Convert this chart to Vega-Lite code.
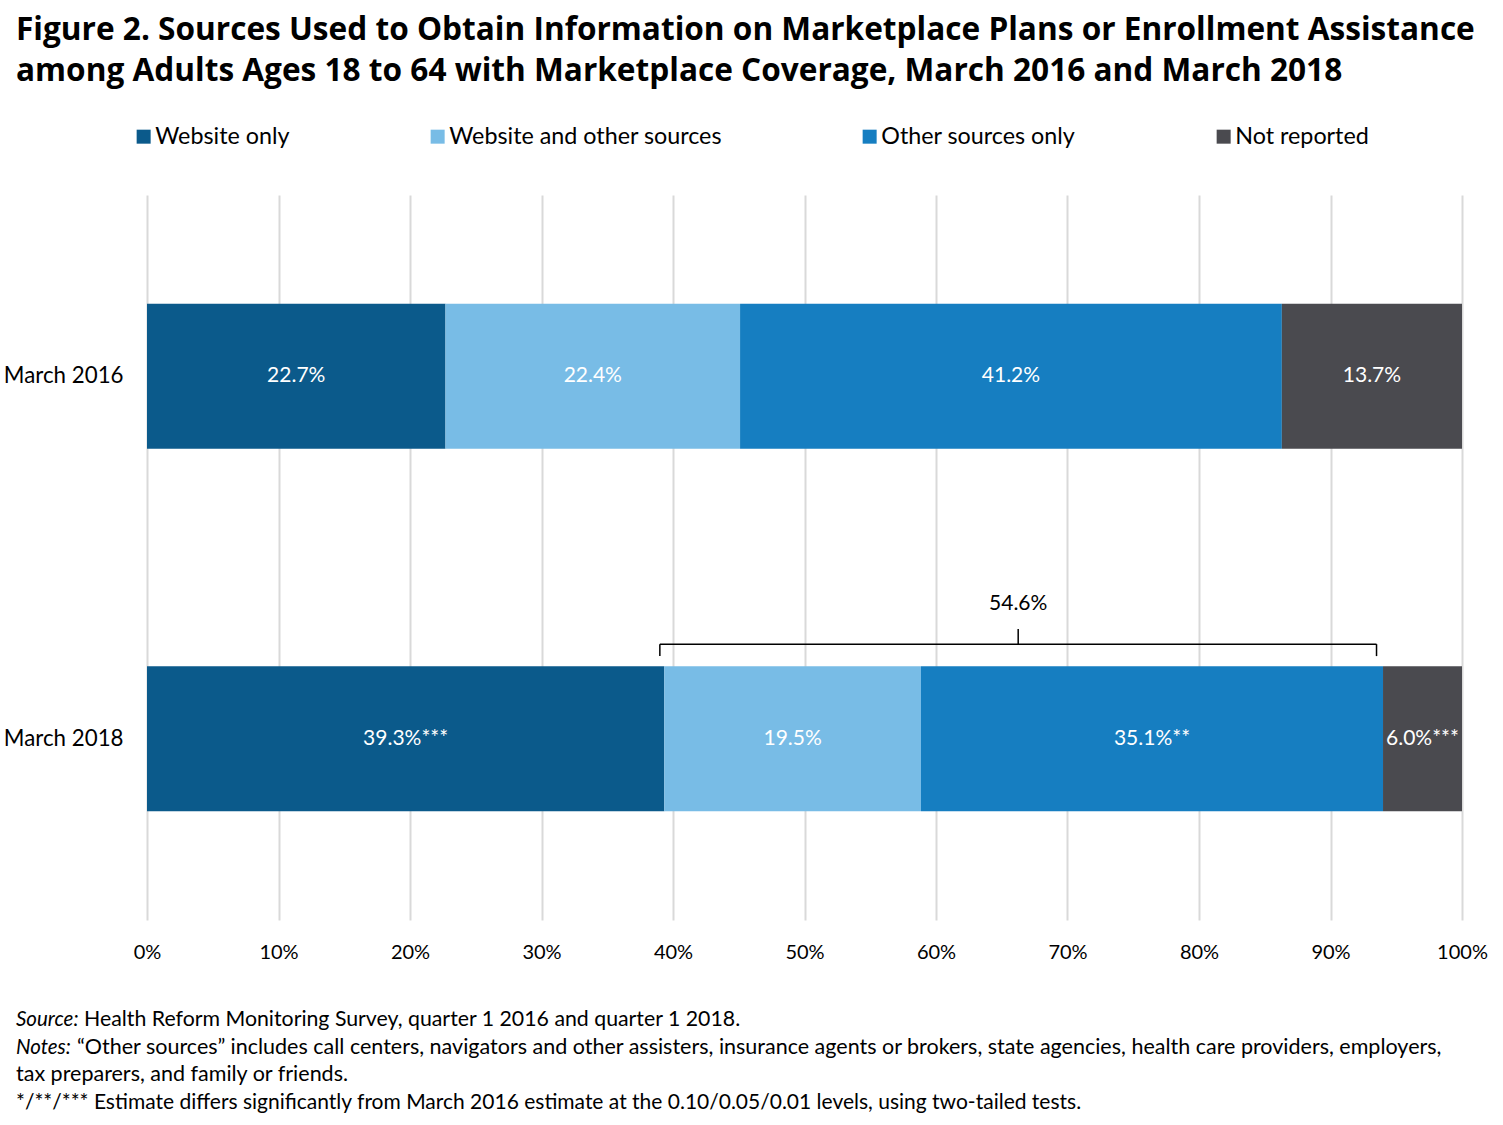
{
  "$schema": "https://vega.github.io/schema/vega-lite/v6.json",
  "width": 1315,
  "height": 725,
  "autosize": {"type": "none"},
  "padding": {"left": 147, "top": 195, "right": 41, "bottom": 205},
  "background": "white",
  "title": {
    "text": [
      "Figure 2. Sources Used to Obtain Information on Marketplace Plans or Enrollment Assistance",
      "among Adults Ages 18 to 64 with Marketplace Coverage, March 2016 and March 2018"
    ],
    "anchor": "start",
    "frame": "group",
    "dx": -131,
    "offset": 37,
    "font": "Open Sans",
    "fontSize": 31.6,
    "fontWeight": "bold",
    "color": "black",
    "lineHeight": 41
  },
  "layer": [
    {
      "data": {
        "values": [
          {"period": "March 2016", "category": "Website only", "value": 22.7, "label": "22.7%", "order": 1},
          {"period": "March 2016", "category": "Website and other sources", "value": 22.4, "label": "22.4%", "order": 2},
          {"period": "March 2016", "category": "Other sources only", "value": 41.2, "label": "41.2%", "order": 3},
          {"period": "March 2016", "category": "Not reported", "value": 13.7, "label": "13.7%", "order": 4},
          {"period": "March 2018", "category": "Website only", "value": 39.3, "label": "39.3%***", "order": 1},
          {"period": "March 2018", "category": "Website and other sources", "value": 19.5, "label": "19.5%", "order": 2},
          {"period": "March 2018", "category": "Other sources only", "value": 35.1, "label": "35.1%**", "order": 3},
          {"period": "March 2018", "category": "Not reported", "value": 6.0, "label": "6.0%***", "order": 4}
        ]
      },
      "encoding": {
        "y": {
          "field": "period",
          "type": "nominal",
          "sort": ["March 2016", "March 2018"],
          "scale": {"paddingInner": 0.6, "paddingOuter": 0.3},
          "axis": {
            "title": null,
            "domain": false,
            "ticks": false,
            "labelFont": "Lato",
            "labelFontSize": 22.3,
            "labelColor": "black",
            "labelPadding": 24
          }
        }
      },
      "layer": [
        {
          "mark": {"type": "bar"},
          "encoding": {
            "x": {
              "field": "value",
              "type": "quantitative",
              "stack": "normalize",
              "scale": {"domain": [0, 1], "nice": false},
              "axis": {
                "title": null,
                "format": ".0%",
                "values": [0, 0.1, 0.2, 0.3, 0.4, 0.5, 0.6, 0.7, 0.8, 0.9, 1],
                "domain": false,
                "ticks": false,
                "grid": true,
                "gridColor": "#D9D9D9",
                "gridWidth": 2,
                "labelFlush": false,
                "labelFont": "Lato",
                "labelFontSize": 20,
                "labelColor": "black",
                "labelPadding": 22
              }
            },
            "color": {
              "field": "category",
              "type": "nominal",
              "scale": {
                "domain": ["Website only", "Website and other sources", "Other sources only", "Not reported"],
                "range": ["#0B5A8B", "#78BCE6", "#167EC1", "#4A4A4F"]
              },
              "legend": {
                "orient": "none",
                "legendX": -15,
                "legendY": -70,
                "direction": "horizontal",
                "columns": 4,
                "columnPadding": 136,
                "title": null,
                "symbolType": "square",
                "symbolSize": 196,
                "symbolStrokeWidth": 0,
                "labelFont": "Lato",
                "labelFontSize": 23.3,
                "labelColor": "black",
                "labelOffset": 0,
                "labelLimit": 0
              }
            },
            "order": {"field": "order"}
          }
        },
        {
          "transform": [
            {"stack": "value", "groupby": ["period"], "sort": [{"field": "order"}], "offset": "normalize", "as": ["x0", "x1"]},
            {"calculate": "(datum.x0 + datum.x1) / 2", "as": "mid"}
          ],
          "mark": {"type": "text", "color": "white", "font": "Lato", "fontSize": 21},
          "encoding": {
            "x": {"field": "mid", "type": "quantitative"},
            "text": {"field": "label"}
          }
        }
      ]
    },
    {
      "data": {"values": [{}]},
      "layer": [
        {
          "mark": {"type": "rule", "color": "black", "strokeWidth": 1.5},
          "encoding": {
            "x": {"datum": 0.39},
            "x2": {"datum": 0.935},
            "y": {"datum": 0.761, "type": "quantitative", "scale": {"domain": [0, 2], "nice": false}, "axis": null}
          }
        },
        {
          "mark": {"type": "rule", "color": "black", "strokeWidth": 1.5},
          "encoding": {
            "x": {"datum": 0.39},
            "y": {"datum": 0.728, "type": "quantitative"},
            "y2": {"datum": 0.761}
          }
        },
        {
          "mark": {"type": "rule", "color": "black", "strokeWidth": 1.5},
          "encoding": {
            "x": {"datum": 0.935},
            "y": {"datum": 0.728, "type": "quantitative"},
            "y2": {"datum": 0.761}
          }
        },
        {
          "mark": {"type": "rule", "color": "black", "strokeWidth": 1.5},
          "encoding": {
            "x": {"datum": 0.6625},
            "y": {"datum": 0.761, "type": "quantitative"},
            "y2": {"datum": 0.803}
          }
        },
        {
          "mark": {"type": "text", "text": "54.6%", "font": "Lato", "fontSize": 21, "color": "black"},
          "encoding": {
            "x": {"datum": 0.6625},
            "y": {"datum": 0.872, "type": "quantitative"}
          }
        },
        {
          "mark": {"type": "text", "text": "Source:", "font": "Lato", "fontSize": 20.5, "fontStyle": "italic", "color": "black", "align": "left", "dx": -131},
          "encoding": {
            "x": {"datum": 0},
            "y": {"datum": -0.276, "type": "quantitative"}
          }
        },
        {
          "mark": {"type": "text", "text": "Health Reform Monitoring Survey, quarter 1 2016 and quarter 1 2018.", "font": "Lato", "fontSize": 21.3, "color": "black", "align": "left", "dx": -63},
          "encoding": {
            "x": {"datum": 0},
            "y": {"datum": -0.276, "type": "quantitative"}
          }
        },
        {
          "mark": {"type": "text", "text": "Notes:", "font": "Lato", "fontSize": 20.5, "fontStyle": "italic", "color": "black", "align": "left", "dx": -131},
          "encoding": {
            "x": {"datum": 0},
            "y": {"datum": -0.353, "type": "quantitative"}
          }
        },
        {
          "mark": {"type": "text", "text": "“Other sources” includes call centers, navigators and other assisters, insurance agents or brokers, state agencies, health care providers, employers,", "font": "Lato", "fontSize": 21.5, "color": "black", "align": "left", "dx": -70},
          "encoding": {
            "x": {"datum": 0},
            "y": {"datum": -0.353, "type": "quantitative"}
          }
        },
        {
          "mark": {"type": "text", "text": "tax preparers, and family or friends.", "font": "Lato", "fontSize": 21.5, "color": "black", "align": "left", "dx": -131},
          "encoding": {
            "x": {"datum": 0},
            "y": {"datum": -0.428, "type": "quantitative"}
          }
        },
        {
          "mark": {"type": "text", "text": "*/**/*** Estimate differs significantly from March 2016 estimate at the 0.10/0.05/0.01 levels, using two-tailed tests.", "font": "Lato", "fontSize": 21, "color": "black", "align": "left", "dx": -131},
          "encoding": {
            "x": {"datum": 0},
            "y": {"datum": -0.505, "type": "quantitative"}
          }
        }
      ]
    }
  ],
  "resolve": {"scale": {"y": "independent"}, "axis": {"y": "independent"}},
  "config": {
    "view": {"stroke": null}
  }
}
